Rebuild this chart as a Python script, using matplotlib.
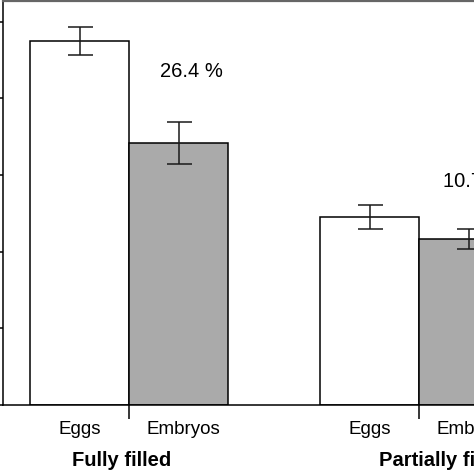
import matplotlib
matplotlib.use("Agg")
import matplotlib.pyplot as plt

plt.rcParams['font.family'] = ['Liberation Sans', 'DejaVu Sans']

# bar data (y in arbitrary units, one tick = 1)
groups = ["Fully filled", "Partially filled"]
stages = ["Eggs", "Embryos"]
eggs = [4.75, 2.45]
eggs_err = [0.18, 0.16]
embryos = [3.42, 2.17]
embryos_err = [0.27, 0.13]
reduction = ["26.4 %", "10.7 %"]

group_start = [0.0, 2.93]

fig = plt.figure(figsize=(4.74, 4.74), dpi=100)
# axes deliberately run past the right edge (reference is a crop)
ax = fig.add_axes([3 / 474, 69 / 474, 637 / 474, 404 / 474])

ecol = "#1a1a1a"
for i in range(len(groups)):
    x0 = group_start[i]
    ax.bar(x0 + 0.5, eggs[i], width=1.0, color="white", edgecolor="black", linewidth=1.1)
    ax.bar(x0 + 1.5, embryos[i], width=1.0, color="#aaaaaa", edgecolor="black", linewidth=1.1)
    ax.errorbar([x0 + 0.5, x0 + 1.5], [eggs[i], embryos[i]],
                yerr=[eggs_err[i], embryos_err[i]], fmt="none",
                ecolor=ecol, elinewidth=1.1, capsize=9, capthick=1.1)

# reduction labels
ax.text(1.63, 4.35, reduction[0], ha="center", va="center", fontsize=14.5)
ax.text(4.17, 2.92, reduction[1], ha="left", va="center", fontsize=14.5)

ax.set_xlim(-0.273, 6.16)
ax.set_ylim(0, 5.27)

# major ticks mark group boundaries, minor ticks carry stage labels
ax.set_xticks([g + 1.0 for g in group_start])
ax.set_xticklabels([])
ax.tick_params(axis="x", which="major", direction="out", length=10, width=1.1)
ax.set_xticks([g + 0.5 for g in group_start] + [g + 1.55 for g in group_start], minor=True)
ax.set_xticklabels([stages[0]] * 2 + [stages[1]] * 2, minor=True, fontsize=13.5)
ax.tick_params(axis="x", which="minor", length=0, pad=11.5)

ax.set_yticks(range(0, 6))
ax.set_yticklabels([])
ax.tick_params(axis="y", direction="out", length=4, width=1.1)

ax.text(0.93, -0.72, groups[0], ha="center", va="center", fontsize=14.5, fontweight="bold")
ax.text(3.52, -0.72, groups[1], ha="left", va="center", fontsize=14.5, fontweight="bold")

ax.spines["top"].set_color("#666666")
ax.spines["top"].set_linewidth(1.6)
ax.spines["left"].set_linewidth(1.1)
ax.spines["bottom"].set_linewidth(1.1)

fig.savefig("out.png", dpi=100)
